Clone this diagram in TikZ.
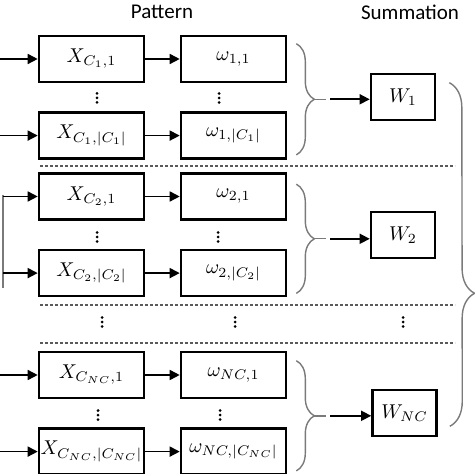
\documentclass[tikz,border=0pt]{standalone}
\usepackage{amsmath, amssymb}
\usepackage{fontspec}
\setmainfont{Carlito}
\usepackage{tikz}
\usetikzlibrary{
  arrows.meta,
  positioning,
  calc,
  decorations.pathreplacing
}
\usepackage{xcolor}
\definecolor{bracegray}{HTML}{7A7A7A}
\definecolor{sepgray}{HTML}{5A5A5A}
\tikzset{
  patbox/.style={
    rectangle, draw=black, line width=1.3pt,
    minimum width=52.5pt, minimum height=23pt, inner sep=0pt,
    font=\fontsize{10}{12}\selectfont, text centered
  },
  sumbox/.style={patbox, minimum width=32pt},
  head/.style={font=\fontsize{10.5}{12}\selectfont, inner sep=0pt},
  arrow/.style={-{Triangle[length=5pt, width=5pt]}, line width=0.8pt},
  brace/.style={decorate, decoration={brace, amplitude=9pt}, draw=bracegray, line width=0.7pt},
  sep/.style={draw=sepgray, dash pattern=on 1.6pt off 0.9pt, line width=0.6pt},
}

\begin{document}
\begin{tikzpicture}[x=0.5pt, y=-0.5pt, node distance=14pt and 17.2pt]
\useasboundingbox (0,0) rectangle (474,474);

% Headings
\node[head] (pattern) at (162,12) {Pattern};
\node[head] (summation) at (410,12) {Summation};

% Group 1
\node[patbox] (x11) at (91.5,59) {$X_{C_1,1}$};
\node[patbox, below=of x11] (x1n) {$X_{C_1,|C_1|}$};
\node[patbox, right=of x11] (w11) {$\omega_{1,1}$};
\node[patbox, right=of x1n] (w1n) {$\omega_{1,|C_1|}$};

% Group 2
\node[patbox] (x21) at (91.5,196.5) {$X_{C_2,1}$};
\node[patbox, below=of x21] (x2n) {$X_{C_2,|C_2|}$};
\node[patbox, right=of x21] (w21) {$\omega_{2,1}$};
\node[patbox, right=of x2n] (w2n) {$\omega_{2,|C_2|}$};

% Group NC
\node[patbox] (xc1) at (91.5,375) {$X_{C_{NC},1}$};
\node[patbox, below=of xc1] (xcn) {$X_{C_{NC},|C_{NC}|}$};
\node[patbox, right=of xc1] (wc1) {$\omega_{NC,1}$};
\node[patbox, right=of xcn] (wcn) {$\omega_{NC,|C_{NC}|}$};

% Summation
\node[sumbox] (s1) at (403,97) {$W_1$};
\node[sumbox] (s2) at (403,235) {$W_2$};
\node[sumbox] (snc) at (404.5,413) {$W_{NC}$};

% Vertical dots
\foreach \p in {(97,98), (219,98), (97,237), (218,237), (98,415), (220,415),
                (102,322), (235,322), (403,322)}
  \foreach \k in {-4.5,0,4.5}
    \fill \p ++(0,\k) circle (0.75pt);

% Inputs
\coordinate (lft) at (0,0);
\coordinate (lft2) at (3,0);
\coordinate (in11) at (x11.west -| lft);
\coordinate (in1n) at (x1n.west -| lft);
\coordinate (in21) at (x21.west -| lft2);
\coordinate (in2n) at (x2n.west -| lft2);
\coordinate (inc1) at (xc1.west -| lft);
\coordinate (incn) at (xcn.west -| lft);
\draw[bracegray, line width=0.8pt] ($(in21)+(0,-1.5)$) -- ($(in2n)+(0,15)$);

\draw[arrow] (in11) -- (x11);
\draw[arrow] (in1n) -- (x1n);
\draw[arrow] (in21) -- (x21);
\draw[arrow] (in2n) -- (x2n);
\draw[arrow] (inc1) -- (xc1);
\draw[arrow] (incn) -- (xcn);

\draw[arrow] (x11) -- (w11);
\draw[arrow] (x1n) -- (w1n);
\draw[arrow] (x21) -- (w21);
\draw[arrow] (x2n) -- (w2n);
\draw[arrow] (xc1) -- (wc1);
\draw[arrow] (xcn) -- (wcn);

% Braces to the sums
\coordinate (b1top) at ($(w11.north east)+(9,9)$);
\coordinate (b1bot) at ($(w1n.south east)+(9,-5)$);
\coordinate (b2top) at ($(w21.north east)+(9,12)$);
\coordinate (b2bot) at ($(w2n.south east)+(9,-4)$);
\coordinate (bctop) at ($(wc1.north east)+(9,10)$);
\coordinate (bcbot) at ($(wcn.south east)+(9,-5)$);
\draw[brace] (b1top) -- (b1bot);
\draw[brace] (b2top) -- (b2bot);
\draw[brace] (bctop) -- (bcbot);
\coordinate (b1tip) at ($(b1top)!0.5!(b1bot)+(18,0)$);
\coordinate (b2tip) at ($(b2top)!0.5!(b2bot)+(18,0)$);
\coordinate (bctip) at ($(bctop)!0.5!(bcbot)+(18,0)$);
\draw[bracegray, line width=0.7pt] (b1tip) -- ++(12,0);
\draw[bracegray, line width=0.7pt] (b2tip) -- ++(12,0);
\draw[bracegray, line width=0.7pt] (bctip) -- ++(12,0);
\draw[arrow, shorten <=8pt] (b1tip) -- (b1tip -| s1.west);
\draw[arrow, shorten <=8pt] (b2tip) -- (b2tip -| s2.west);
\draw[arrow, shorten <=8pt] (bctip) -- (bctip -| snc.west);

% Big brace over all sums
\coordinate (btop) at ($(s1.north east)+(13,10)$);
\coordinate (bbot) at ($(snc.south east)+(12,-11)$);
\draw[brace, decoration={brace, amplitude=12.5pt, aspect=0.613}] (btop) -- (bbot);

% Separators
\draw[sep] (40,166) -- (455,166);
\draw[sep] (40,305) -- (455,305);
\draw[sep] (40,343) -- (455,343);

\end{tikzpicture}
\end{document}
